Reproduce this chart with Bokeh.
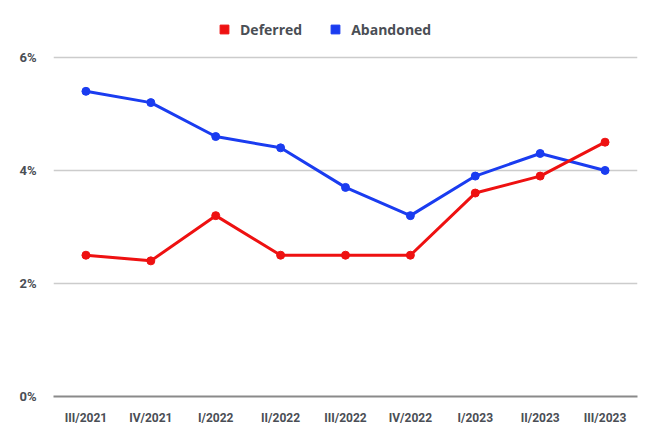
from bokeh.plotting import figure
from bokeh.models import Legend, LegendItem, FixedTicker, ColumnDataSource
from bokeh.embed import file_html
from bokeh.resources import INLINE

quarters = ["III/2021", "IV/2021", "I/2022", "II/2022", "III/2022", "IV/2022", "I/2023", "II/2023", "III/2023"]
deferred = [2.5, 2.4, 3.2, 2.5, 2.5, 2.5, 3.6, 3.9, 4.5]
abandoned = [5.4, 5.2, 4.6, 4.4, 3.7, 3.2, 3.9, 4.3, 4.0]
y_ticks = [0, 2, 4, 6]

RED = "#ee1111"
BLUE = "#1a3cf0"
FONT = "Roboto"
TXT = "#4a4e55"

p = figure(x_range=quarters, y_range=(0, 6.83), width=645, height=427,
           output_backend="svg", toolbar_location=None,
           min_border_left=53, min_border_right=8, min_border_top=10, min_border_bottom=25)
p.outline_line_color = None

src = ColumnDataSource(dict(q=quarters, d=deferred, a=abandoned))

p.line("q", "a", source=src, line_color=BLUE, line_width=3)
p.scatter("q", "a", source=src, size=8, color=BLUE)
p.line("q", "d", source=src, line_color=RED, line_width=3)
p.scatter("q", "d", source=src, size=8, color=RED)

# legend swatches: square markers with no drawable value (NaN), used only by the legend
swatch = ColumnDataSource(dict(q=quarters[:1], v=[float("nan")]))
r_def = p.scatter("q", "v", source=swatch, marker="square", size=10, color=RED)
r_ab = p.scatter("q", "v", source=swatch, marker="square", size=10, color=BLUE)

legend = Legend(items=[LegendItem(label="Deferred", renderers=[r_def]),
                       LegendItem(label="Abandoned", renderers=[r_ab])],
                orientation="horizontal", location=(160, 356),
                label_text_font="Open Sans", label_text_font_style="bold",
                label_text_font_size="14px", label_text_color=TXT,
                glyph_width=22, glyph_height=22, label_standoff=5, spacing=22,
                border_line_color=None, background_fill_alpha=0,
                padding=4, margin=0)
p.add_layout(legend, "center")

p.yaxis.ticker = FixedTicker(ticks=y_ticks)
p.yaxis.major_label_overrides = {t: f"{t}%" for t in y_ticks}
p.yaxis.axis_line_color = None
p.yaxis.major_tick_line_color = None
p.yaxis.minor_tick_line_color = None
p.yaxis.major_label_standoff = 11
p.yaxis.major_label_text_font = FONT
p.yaxis.major_label_text_font_style = "bold"
p.yaxis.major_label_text_font_size = "13px"
p.yaxis.major_label_text_color = TXT

p.xaxis.axis_line_color = "#8a8a8a"
p.xaxis.axis_line_width = 2
p.xaxis.major_tick_line_color = None
p.xaxis.minor_tick_line_color = None
p.xaxis.major_label_standoff = 8
p.xaxis.major_label_text_font = FONT
p.xaxis.major_label_text_font_style = "bold"
p.xaxis.major_label_text_font_size = "12px"
p.xaxis.major_label_text_color = TXT

p.xgrid.grid_line_color = None
p.ygrid.grid_line_color = "#cccccc"
p.ygrid.grid_line_width = 1.5

open("out.html", "w").write(file_html(p, INLINE))
